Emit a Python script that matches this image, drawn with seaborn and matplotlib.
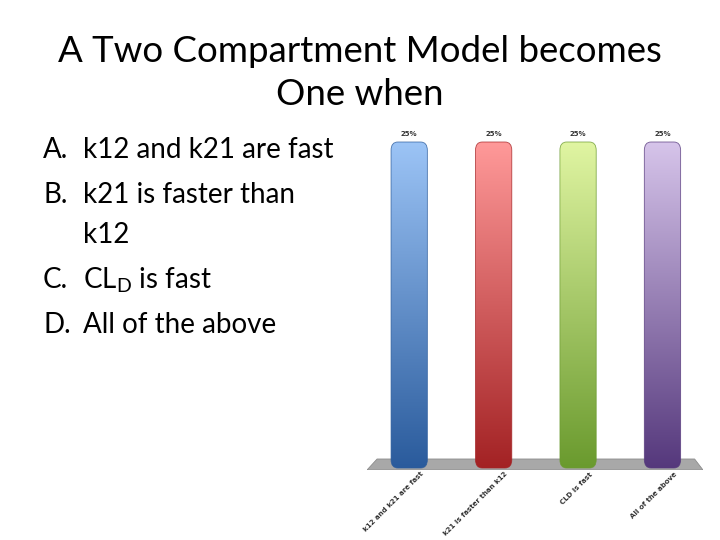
import numpy as np
import pandas as pd
import matplotlib
matplotlib.use("Agg")
import matplotlib.pyplot as plt
import seaborn as sns
from matplotlib.patches import FancyBboxPatch, Polygon
from matplotlib.colors import LinearSegmentedColormap

categories = ["k12 and k21 are fast", "k21 is faster than k12", "CLD is fast", "All of the above"]
percent = [25, 25, 25, 25]
top_colors = ["#9cc4f6", "#ff9999", "#e0f5a2", "#d6c4ea"]
bottom_colors = ["#2a5b9c", "#a32224", "#6a9a2e", "#55387c"]
title_lines = ["A Two Compartment Model becomes", "One when"]
item_letters = ["A.", "B.", "", "C.", "D."]
item_texts = ["k12 and k21 are fast", "k21 is faster than", "k12", r"CL$_\mathregular{D}$ is fast", "All of the above"]

sns.set_theme(style="white")
plt.rcParams['font.family'] = ['Lato', 'DejaVu Sans']

W, H = 720, 540
fig = plt.figure(figsize=(7.2, 5.4), dpi=100)
fig.patch.set_facecolor("white")

# Title
fig.text(0.5, 1 - 62 / H, title_lines[0], ha="center", va="baseline", fontsize=26.4, color="black")
fig.text(0.5, 1 - 105 / H, title_lines[1], ha="center", va="baseline", fontsize=26.4, color="black")

# List
baselines = [158, 203, 243, 288, 333]
for letter, txt, yb in zip(item_letters, item_texts, baselines):
    if letter:
        fig.text(43 / W, 1 - yb / H, letter, ha="left", va="baseline", fontsize=20, color="black")
    fig.text(83 / W, 1 - yb / H, txt, ha="left", va="baseline", fontsize=20, color="black")

# Bar chart axes
ax_left, ax_right = 367, 703
ax_top, ax_bottom = 130, 470
ax = fig.add_axes([ax_left / W, 1 - ax_bottom / H, (ax_right - ax_left) / W, (ax_bottom - ax_top) / H])
df = pd.DataFrame({"cat": categories, "pct": percent})
sns.barplot(data=df, x="cat", y="pct", ax=ax, width=0.43, color="white", linewidth=0, zorder=1)

# y scale: 0 at bar bottom (468px), 25 at top (142px)
px_per_unit = (468 - 142) / 25.0
y0 = -(470 - 468) / px_per_unit
y1 = 25 + (142 - 130) / px_per_unit
ax.set_xlim(-0.5, 3.48)
ax.set_ylim(y0, y1)
ax.axis("off")

# floor parallelogram (axes coords)
floor = Polygon([[0.0, 0.0], [1.0, 0.0], [0.975, 11 / 340], [0.03, 11 / 340]],
                closed=True, transform=ax.transAxes, facecolor="#a8a8a8",
                edgecolor="#8c8c8c", linewidth=0.6, zorder=0.5)
ax.add_patch(floor)

for i, p in enumerate(ax.patches[:len(categories)]):
    x, w, h = p.get_x(), p.get_width(), p.get_height()
    p.set_visible(False)
    cmap = LinearSegmentedColormap.from_list("g", [bottom_colors[i], top_colors[i]])
    clip = FancyBboxPatch((x, 0), w, h, boxstyle="round,pad=0,rounding_size=0.08",
                          mutation_aspect=8,
                          facecolor="none", edgecolor="none", transform=ax.transData)
    ax.add_patch(clip)
    grad = np.linspace(0, 1, 256).reshape(-1, 1)
    im = ax.imshow(grad, extent=(x, x + w, 0, h), origin="lower", cmap=cmap,
                   aspect="auto", zorder=2)
    im.set_clip_path(clip)
    outline = FancyBboxPatch((x, 0), w, h, boxstyle="round,pad=0,rounding_size=0.08",
                             mutation_aspect=8, facecolor="none",
                             edgecolor=bottom_colors[i], linewidth=0.6, alpha=0.8,
                             transform=ax.transData, zorder=3)
    ax.add_patch(outline)
    ax.text(x + w / 2, h + 5 / px_per_unit, f"{percent[i]}%", ha="center", va="bottom",
            fontsize=5, fontweight="bold", color="#333333", family=["DejaVu Sans"])
    ax.text(x + w / 2 + 0.13, y0 - 1 / px_per_unit, categories[i], ha="right", va="top",
            rotation=45, rotation_mode="anchor", fontsize=5.0, fontweight="bold",
            color="#333333", family=["DejaVu Sans"], clip_on=False)

ax.set_aspect("auto")
fig.savefig("out.png", dpi=100, facecolor="white")
